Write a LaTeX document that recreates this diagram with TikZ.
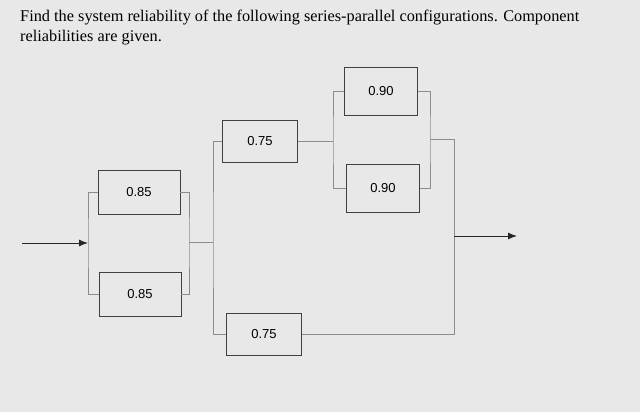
\documentclass[tikz,border=0pt]{standalone}
\usepackage{fontspec}
\setmainfont{Liberation Serif}
\newfontfamily\arial{Liberation Sans}
\usetikzlibrary{arrows.meta}
\begin{document}
\begin{tikzpicture}[x=1pt,y=-1pt,
  comp/.style={draw=black!75,line width=0.9pt,minimum width=#1,minimum height=44pt,inner sep=0pt,font=\arial\fontsize{13}{15}\selectfont},
  comp/.default=80pt,
  wire/.style={draw=black!45,line width=0.7pt},
  arr/.style={draw=black!85,line width=1pt,-{Latex[length=9pt,width=7pt]}}]
\useasboundingbox[fill=black!9] (0,0) rectangle (640,412);
\node[anchor=west,align=left,inner sep=0pt,font=\fontsize{16.3}{20}\selectfont] (title) at (20,28) {Find the system reliability of the following series-parallel configurations. Component\\reliabilities are given.};
\node[comp=82pt] (a1) at (139,192) {0.85};
\node[comp=82pt] (a2) at (140,294) {0.85};
\node[comp=75pt,minimum height=42pt] (b1) at (260,141) {0.75};
\node[comp=75pt,minimum height=42pt] (b2) at (264,334) {0.75};
\node[comp=73pt,minimum height=48pt] (c1) at (381,91) {0.90};
\node[comp=73pt,minimum height=48pt] (c2) at (383,188) {0.90};
\coordinate (in) at (22,243);
\coordinate (out) at (517,236);
\coordinate (L1) at (88,243);
\coordinate (R1) at (189,242);
\coordinate (M) at (213,242);
\coordinate (N) at (333,141);
\coordinate (P) at (430,139);
\coordinate (Q) at (454,236);
\draw[arr] (in) -- (L1);
\draw[wire] (a1.west) -| (L1) |- (a2.west);
\draw[wire] (a1.east) -| (R1) |- (a2.east);
\draw[wire] (R1) -- (M);
\draw[wire] (b1.west) -| (M) |- (b2.west);
\draw[wire] (b1.east) -- (N);
\draw[wire] (c1.west) -| (N) |- (c2.west);
\draw[wire] (c1.east) -| (P) |- (c2.east);
\draw[wire] (P) -- (454,139) -- (Q);
\draw[wire] (b2.east) -| (Q);
\draw[arr] (Q) -- (out);
\end{tikzpicture}
\end{document}
